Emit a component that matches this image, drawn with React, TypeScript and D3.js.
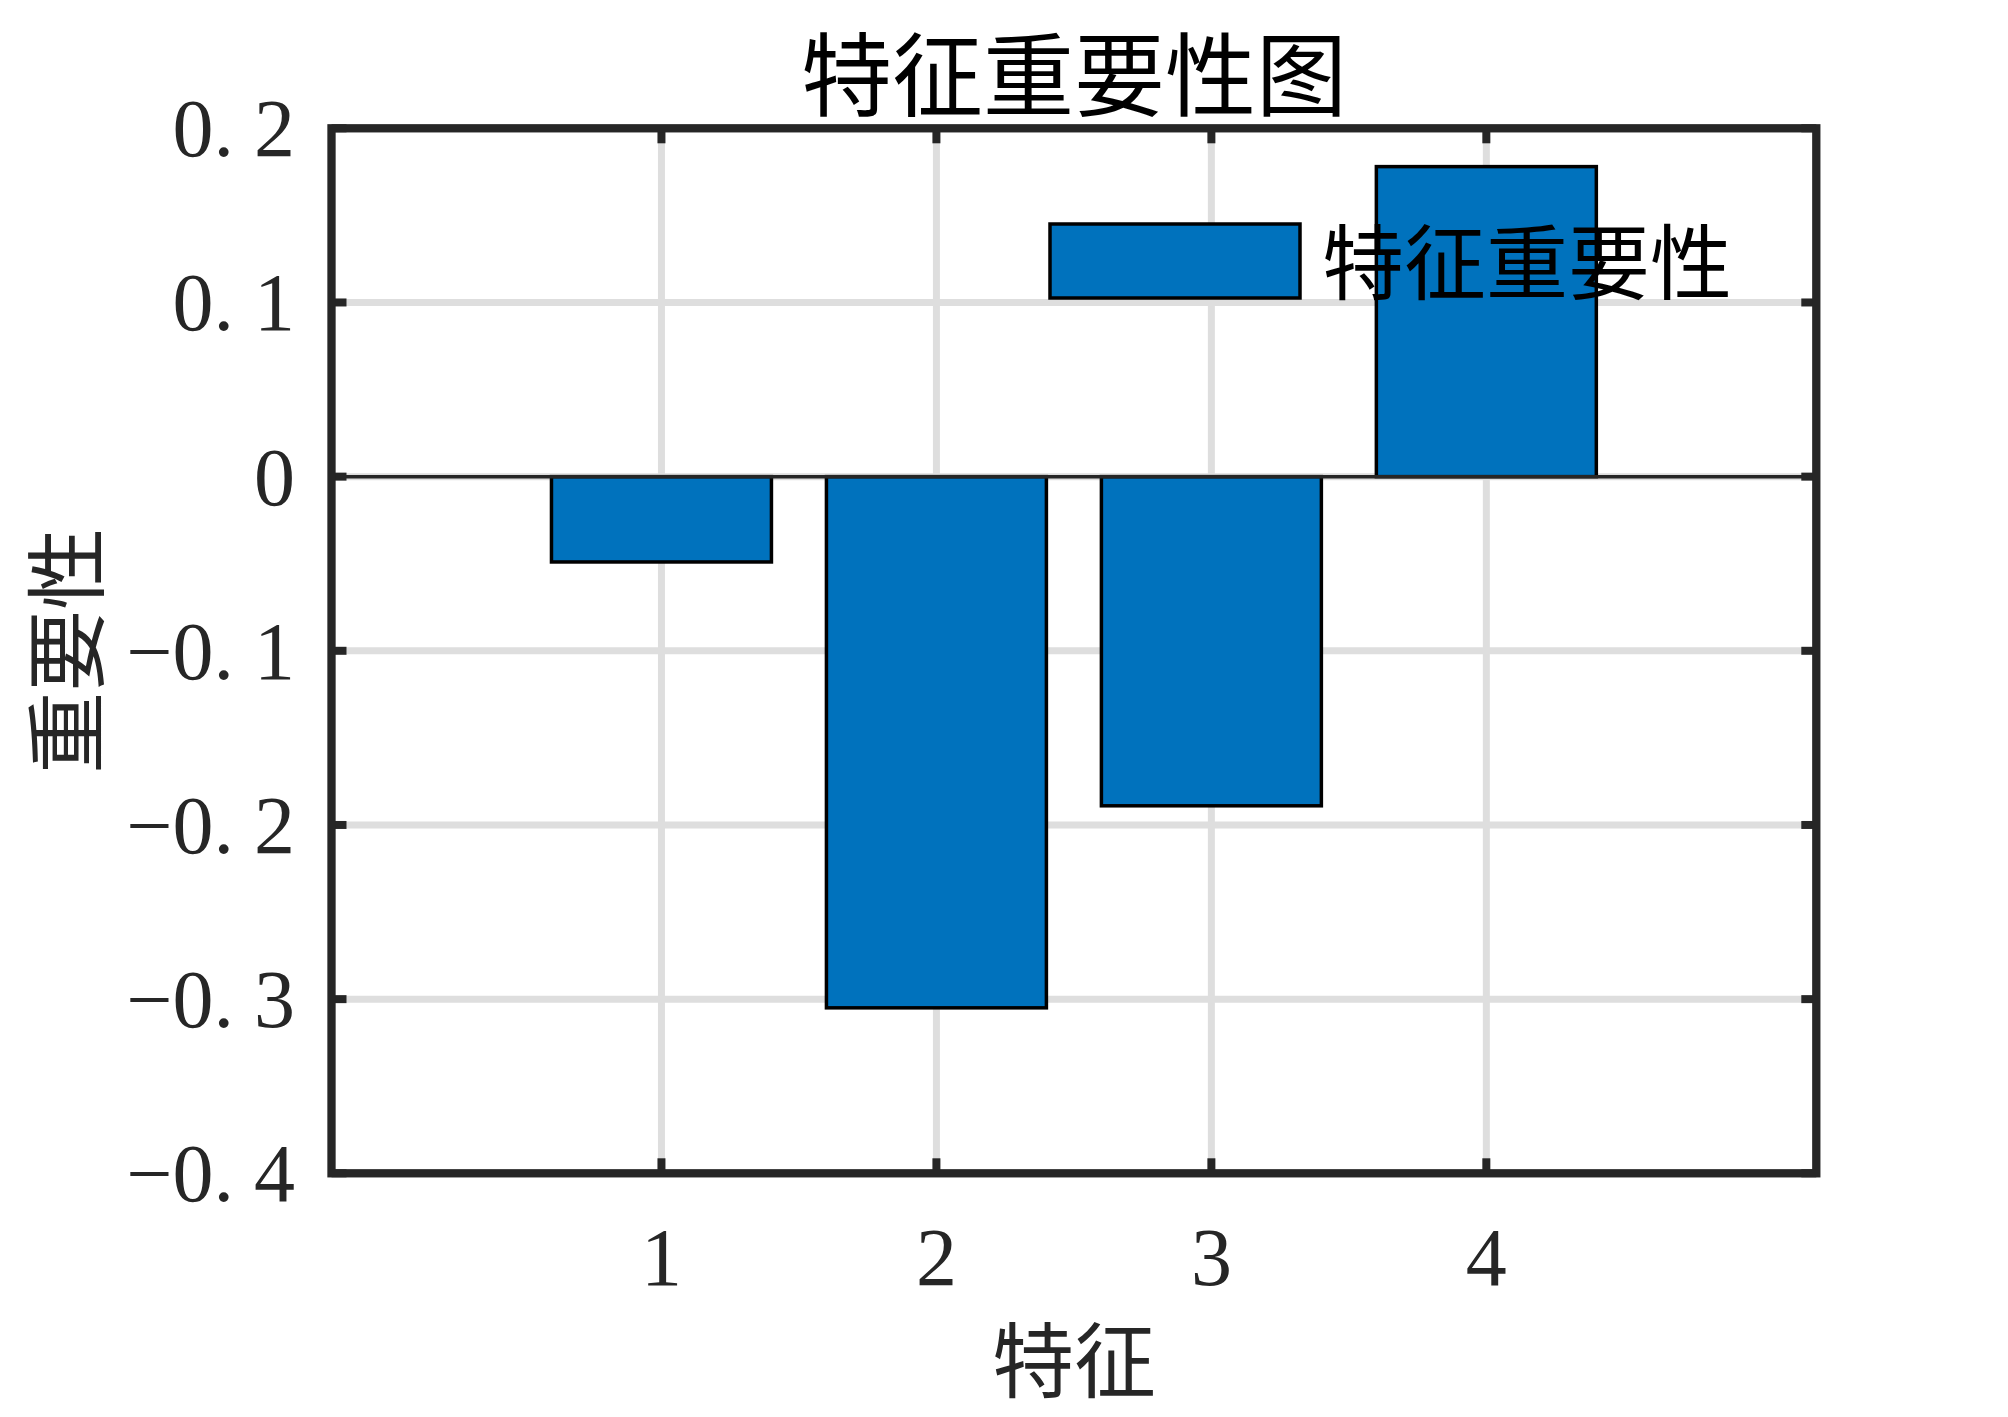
import React from "react";
import * as d3 from "d3";

const features = [1, 2, 3, 4];
const importance = [-0.049, -0.305, -0.189, 0.178];
const yTicks = [0.2, 0.1, 0, -0.1, -0.2, -0.3, -0.4];
const xTicks = [1, 2, 3, 4];
const titleText = "特征重要性图";
const xLabelText = "特征";
const yLabelText = "重要性";
const legendText = "特征重要性";

const W = 2008;
const H = 1417;
const L = 331.5, R = 1816.3, T = 128.3, B = 1173.3;
const CJK = '"Noto Sans CJK SC", "Noto Sans", sans-serif';
const NUM = '"Liberation Serif", "DejaVu Serif", serif';
const FS = 82;
const DARK = "#262626";
const BLUE = "#0072BD";

function fmt(v: number) {
  if (v === 0) return { sign: "", a: "0", b: "" };
  const s = Math.abs(v).toFixed(1).split(".");
  return { sign: v < 0 ? "\u2212" : "", a: s[0] + ".", b: s[1] };
}

export default function App() {
  const x = d3.scaleLinear().domain([-0.2, 5.2]).range([L, R]);
  const y = d3.scaleLinear().domain([-0.4, 0.2]).range([B, T]);
  const bw = 0.8;
  const tickLen = 15;

  return (
    <svg width={W} height={H} style={{ position: "absolute", left: 0, top: 0, background: "#fff" }}>
      <rect x={0} y={0} width={W} height={H} fill="#fff" />
      {/* grid */}
      <g stroke="#dedede" strokeWidth={7}>
        {xTicks.map((t) => (
          <line key={"gx" + t} x1={x(t)} x2={x(t)} y1={T} y2={B} />
        ))}
        {yTicks.map((t) => (
          <line key={"gy" + t} x1={L} x2={R} y1={y(t)} y2={y(t)} />
        ))}
      </g>
      {/* bars */}
      {features.map((f, i) => {
        const v = importance[i];
        const x0 = x(f - bw / 2);
        const x1 = x(f + bw / 2);
        const y0 = y(Math.max(0, v));
        const y1 = y(Math.min(0, v));
        return (
          <rect key={"b" + f} x={x0} y={y0} width={x1 - x0} height={y1 - y0}
            fill={BLUE} stroke="#000" strokeWidth={3.5} />
        );
      })}
      {/* baseline */}
      <line x1={L} x2={R} y1={y(0)} y2={y(0)} stroke={DARK} strokeWidth={3.5} />
      {/* ticks */}
      <g stroke={DARK} strokeWidth={8}>
        {yTicks.map((t) => (
          <g key={"ty" + t}>
            <line x1={L} x2={L + tickLen} y1={y(t)} y2={y(t)} />
            <line x1={R - tickLen} x2={R} y1={y(t)} y2={y(t)} />
          </g>
        ))}
        {xTicks.map((t) => (
          <g key={"tx" + t}>
            <line x1={x(t)} x2={x(t)} y1={B} y2={B - tickLen} />
            <line x1={x(t)} x2={x(t)} y1={T} y2={T + tickLen} />
          </g>
        ))}
      </g>
      {/* box */}
      <rect x={L} y={T} width={R - L} height={B - T} fill="none" stroke={DARK} strokeWidth={8.3} />
      {/* y tick labels */}
      <g fontFamily={NUM} fontSize={FS} fill={DARK} textAnchor="end">
        {yTicks.map((t) => {
          const p = fmt(t);
          return (
            <text key={"ly" + t} x={295} y={y(t) + 28}>
              {p.sign}{p.a}{p.b ? <tspan dx={20}>{p.b}</tspan> : null}
            </text>
          );
        })}
      </g>
      {/* x tick labels */}
      <g fontFamily={NUM} fontSize={FS} fill={DARK} textAnchor="middle">
        {xTicks.map((t) => (
          <text key={"lx" + t} x={x(t)} y={1285}>{String(t)}</text>
        ))}
      </g>
      {/* title */}
      <text x={(L + R) / 2} y={109} fontFamily={CJK} fontSize={91} fill="#000" textAnchor="middle">
        {titleText}
      </text>
      {/* x label */}
      <text x={(L + R) / 2} y={1391} fontFamily={CJK} fontSize={FS} fill={DARK} textAnchor="middle">
        {xLabelText}
      </text>
      {/* y label */}
      <text transform={`translate(97,${(T + B) / 2}) rotate(-90)`} fontFamily={CJK} fontSize={FS}
        fill={DARK} textAnchor="middle">
        {yLabelText}
      </text>
      {/* legend */}
      <rect x={1050} y={224} width={250} height={74} fill={BLUE} stroke="#000" strokeWidth={3.5} />
      <text x={1322} y={293} fontFamily={CJK} fontSize={FS} fill="#000">{legendText}</text>
    </svg>
  );
}
